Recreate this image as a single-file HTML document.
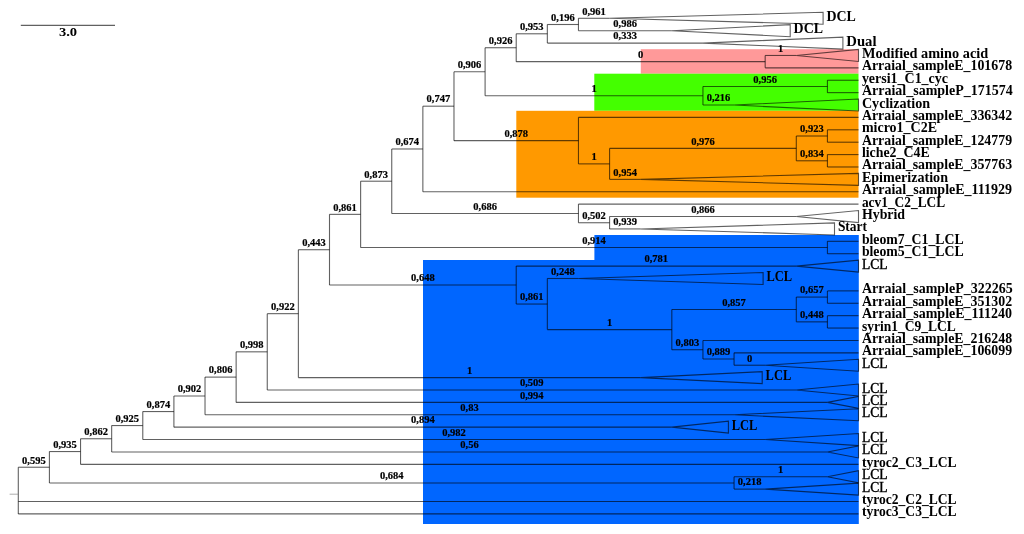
<!DOCTYPE html>
<html><head><meta charset="utf-8"><title>Phylogenetic tree</title>
<style>html,body{margin:0;padding:0;background:#fff;width:1024px;height:534px;overflow:hidden}svg{display:block;filter:blur(0.3px)}</style>
</head><body>
<svg width="1024" height="534" viewBox="0 0 1024 534">
<rect width="1024" height="534" fill="#fff"/>
<rect x="640.8" y="49.2" width="217.7" height="24.5" fill="#ff9999"/>
<rect x="594.3" y="73.7" width="264.2" height="37.1" fill="#44ff00"/>
<rect x="516.3" y="110.8" width="342.2" height="86.9" fill="#ff9900"/>
<path d="M594.4 235H858.8V524H423V260.1H594.4Z" fill="#0066ff"/>
<g stroke="#000" stroke-opacity="0.62" stroke-width="1.1" fill="none">
<path d="M18.3 467.24L18.3 513.9"/>
<path d="M18.3 467.24L49.42 467.24"/>
<path d="M49.42 451.55L49.42 482.93"/>
<path d="M49.42 451.55L80.54 451.55"/>
<path d="M80.54 438.75L80.54 464.34"/>
<path d="M80.54 438.75L111.66 438.75"/>
<path d="M111.66 425.56L111.66 451.95"/>
<path d="M111.66 425.56L142.78 425.56"/>
<path d="M142.78 411.56L142.78 439.56"/>
<path d="M142.78 411.56L173.9 411.56"/>
<path d="M173.9 395.95L173.9 427.17"/>
<path d="M173.9 395.95L205.02 395.95"/>
<path d="M205.02 377.11L205.02 414.78"/>
<path d="M205.02 377.11L236.14 377.11"/>
<path d="M236.14 351.83L236.14 402.39"/>
<path d="M236.14 351.83L267.26 351.83"/>
<path d="M267.26 313.66L267.26 390"/>
<path d="M267.26 313.66L298.38 313.66"/>
<path d="M298.38 249.72L298.38 377.61"/>
<path d="M298.38 249.72L329.5 249.72"/>
<path d="M329.5 214.36L329.5 285.07"/>
<path d="M329.5 214.36L360.62 214.36"/>
<path d="M360.62 181.21L360.62 247.52"/>
<path d="M360.62 181.21L391.74 181.21"/>
<path d="M391.74 148.98L391.74 213.44"/>
<path d="M391.74 148.98L422.86 148.98"/>
<path d="M422.86 106.19L422.86 191.76"/>
<path d="M422.86 106.19L453.98 106.19"/>
<path d="M453.98 71.73L453.98 140.65"/>
<path d="M453.98 71.73L485.1 71.73"/>
<path d="M485.1 47.73L485.1 95.74"/>
<path d="M485.1 47.73L516.22 47.73"/>
<path d="M516.22 33.79L516.22 61.66"/>
<path d="M516.22 33.79L547.34 33.79"/>
<path d="M547.34 24.5L547.34 43.08"/>
<path d="M547.34 24.5L578.46 24.5"/>
<path d="M578.46 18.3L578.46 30.69"/>
<path d="M578.46 18.3L609.58 18.3"/>
<path d="M578.46 30.69L671.82 30.69"/>
<path d="M547.34 43.08L702.94 43.08"/>
<path d="M516.22 61.66L765.18 61.66"/>
<path d="M765.18 55.47L765.18 67.86"/>
<path d="M765.18 55.47L796.3 55.47"/>
<path d="M765.18 67.86L858.5 67.86"/>
<path d="M485.1 95.74L702.94 95.74"/>
<path d="M702.94 86.44L702.94 105.03"/>
<path d="M702.94 86.44L827.42 86.44"/>
<path d="M827.42 80.25L827.42 92.64"/>
<path d="M827.42 80.25L858.5 80.25"/>
<path d="M827.42 92.64L858.5 92.64"/>
<path d="M702.94 105.03L734.06 105.03"/>
<path d="M453.98 140.65L578.46 140.65"/>
<path d="M578.46 117.42L578.46 163.88"/>
<path d="M578.46 117.42L858.5 117.42"/>
<path d="M578.46 163.88L609.58 163.88"/>
<path d="M609.58 148.4L609.58 179.37"/>
<path d="M609.58 148.4L796.3 148.4"/>
<path d="M796.3 136L796.3 160.79"/>
<path d="M796.3 136L827.42 136"/>
<path d="M827.42 129.81L827.42 142.2"/>
<path d="M827.42 129.81L858.5 129.81"/>
<path d="M827.42 142.2L858.5 142.2"/>
<path d="M796.3 160.79L827.42 160.79"/>
<path d="M827.42 154.59L827.42 166.98"/>
<path d="M827.42 154.59L858.5 154.59"/>
<path d="M827.42 166.98L858.5 166.98"/>
<path d="M609.58 179.37L640.7 179.37"/>
<path d="M422.86 191.76L858.5 191.76"/>
<path d="M391.74 213.44L578.46 213.44"/>
<path d="M578.46 204.15L578.46 222.74"/>
<path d="M578.46 204.15L858.5 204.15"/>
<path d="M578.46 222.74L609.58 222.74"/>
<path d="M609.58 216.54L609.58 228.93"/>
<path d="M609.58 216.54L796.3 216.54"/>
<path d="M609.58 228.93L640.7 228.93"/>
<path d="M360.62 247.52L827.42 247.52"/>
<path d="M827.42 241.32L827.42 253.71"/>
<path d="M827.42 241.32L858.5 241.32"/>
<path d="M827.42 253.71L858.5 253.71"/>
<path d="M329.5 285.07L516.22 285.07"/>
<path d="M516.22 266.1L516.22 304.04"/>
<path d="M516.22 266.1L796.3 266.1"/>
<path d="M516.22 304.04L547.34 304.04"/>
<path d="M547.34 278.49L547.34 329.6"/>
<path d="M547.34 278.49L578.46 278.49"/>
<path d="M547.34 329.6L671.82 329.6"/>
<path d="M671.82 309.47L671.82 349.73"/>
<path d="M671.82 309.47L796.3 309.47"/>
<path d="M796.3 297.08L796.3 321.86"/>
<path d="M796.3 297.08L827.42 297.08"/>
<path d="M827.42 290.88L827.42 303.27"/>
<path d="M827.42 290.88L858.5 290.88"/>
<path d="M827.42 303.27L858.5 303.27"/>
<path d="M796.3 321.86L827.42 321.86"/>
<path d="M827.42 315.66L827.42 328.05"/>
<path d="M827.42 315.66L858.5 315.66"/>
<path d="M827.42 328.05L858.5 328.05"/>
<path d="M671.82 349.73L702.94 349.73"/>
<path d="M702.94 340.44L702.94 359.03"/>
<path d="M702.94 340.44L858.5 340.44"/>
<path d="M702.94 359.03L734.06 359.03"/>
<path d="M734.06 352.83L734.06 365.22"/>
<path d="M734.06 352.83L858.5 352.83"/>
<path d="M734.06 365.22L765.18 365.22"/>
<path d="M298.38 377.61L640.7 377.61"/>
<path d="M267.26 390L796.3 390"/>
<path d="M236.14 402.39L827.42 402.39"/>
<path d="M205.02 414.78L734.06 414.78"/>
<path d="M173.9 427.17L671.82 427.17"/>
<path d="M142.78 439.56L765.18 439.56"/>
<path d="M111.66 451.95L827.42 451.95"/>
<path d="M80.54 464.34L858.5 464.34"/>
<path d="M49.42 482.93L734.06 482.93"/>
<path d="M734.06 476.73L734.06 489.12"/>
<path d="M734.06 476.73L827.42 476.73"/>
<path d="M734.06 489.12L765.18 489.12"/>
<path d="M18.3 501.51L858.5 501.51"/>
<path d="M18.3 513.9L858.5 513.9"/>
<path d="M609.58 18.3L823.1 12.3L823.1 24.3L609.58 18.3"/>
<path d="M671.82 30.69L790.2 24.69L790.2 36.69L671.82 30.69"/>
<path d="M702.94 43.08L842.9 37.08L842.9 49.08L702.94 43.08"/>
<path d="M796.3 55.47L858.5 49.47L858.5 61.47L796.3 55.47"/>
<path d="M734.06 105.03L858.5 99.03L858.5 111.03L734.06 105.03"/>
<path d="M640.7 179.37L858.5 173.37L858.5 185.37L640.7 179.37"/>
<path d="M796.3 216.54L858.5 210.54L858.5 222.54L796.3 216.54"/>
<path d="M640.7 228.93L834.5 222.93L834.5 234.93L640.7 228.93"/>
<path d="M796.3 266.1L858.5 260.1L858.5 272.1L796.3 266.1"/>
<path d="M578.46 278.49L763.1 272.49L763.1 284.49L578.46 278.49"/>
<path d="M765.18 365.22L858.5 359.22L858.5 371.22L765.18 365.22"/>
<path d="M640.7 377.61L762.2 371.61L762.2 383.61L640.7 377.61"/>
<path d="M796.3 390L858.5 384L858.5 396L796.3 390"/>
<path d="M827.42 402.39L858.5 396.39L858.5 408.39L827.42 402.39"/>
<path d="M734.06 414.78L858.5 408.78L858.5 420.78L734.06 414.78"/>
<path d="M671.82 427.17L728.4 421.17L728.4 433.17L671.82 427.17"/>
<path d="M765.18 439.56L858.5 433.56L858.5 445.56L765.18 439.56"/>
<path d="M827.42 451.95L858.5 445.95L858.5 457.95L827.42 451.95"/>
<path d="M827.42 476.73L858.5 470.73L858.5 482.73L827.42 476.73"/>
<path d="M765.18 489.12L858.5 483.12L858.5 495.12L765.18 489.12"/>
<path d="M9.6 494.22H18.3" stroke="#888"/>
<path d="M20.8 25.4H115"/>
</g>
<g font-family="Liberation Serif, serif" font-weight="bold" font-size="10.5" text-anchor="middle" fill="#000" stroke="#000" stroke-width="0.2">
<text x="33.86" y="463.54">0,595</text>
<text x="64.98" y="447.85">0,935</text>
<text x="96.1" y="435.05">0,862</text>
<text x="127.22" y="421.86">0,925</text>
<text x="158.34" y="407.86">0,874</text>
<text x="189.46" y="392.25">0,902</text>
<text x="220.58" y="373.41">0,806</text>
<text x="251.7" y="348.13">0,998</text>
<text x="282.82" y="309.96">0,922</text>
<text x="313.94" y="246.02">0,443</text>
<text x="345.06" y="210.66">0,861</text>
<text x="376.18" y="177.51">0,873</text>
<text x="407.3" y="145.28">0,674</text>
<text x="438.42" y="102.49">0,747</text>
<text x="469.54" y="68.03">0,906</text>
<text x="500.66" y="44.03">0,926</text>
<text x="531.78" y="30.09">0,953</text>
<text x="562.9" y="20.8">0,196</text>
<text x="594.02" y="14.6">0,961</text>
<text x="625.14" y="26.99">0,986</text>
<text x="625.14" y="39.38">0,333</text>
<text x="640.7" y="57.96">0</text>
<text x="780.74" y="51.77">1</text>
<text x="594.02" y="92.04">1</text>
<text x="765.18" y="82.74">0,956</text>
<text x="718.5" y="101.33">0,216</text>
<text x="516.22" y="136.95">0,878</text>
<text x="594.02" y="160.18">1</text>
<text x="702.94" y="144.7">0,976</text>
<text x="811.86" y="132.31">0,923</text>
<text x="811.86" y="157.09">0,834</text>
<text x="625.14" y="175.67">0,954</text>
<text x="485.1" y="209.74">0,686</text>
<text x="594.02" y="219.04">0,502</text>
<text x="702.94" y="212.84">0,866</text>
<text x="625.14" y="225.23">0,939</text>
<text x="594.02" y="243.82">0,914</text>
<text x="422.86" y="281.37">0,648</text>
<text x="656.26" y="262.4">0,781</text>
<text x="531.78" y="300.34">0,861</text>
<text x="562.9" y="274.79">0,248</text>
<text x="609.58" y="325.9">1</text>
<text x="734.06" y="305.77">0,857</text>
<text x="811.86" y="293.38">0,657</text>
<text x="811.86" y="318.16">0,448</text>
<text x="687.38" y="346.03">0,803</text>
<text x="718.5" y="355.33">0,889</text>
<text x="749.62" y="361.52">0</text>
<text x="469.54" y="373.91">1</text>
<text x="531.78" y="386.3">0,509</text>
<text x="531.78" y="398.69">0,994</text>
<text x="469.54" y="411.08">0,83</text>
<text x="422.86" y="423.47">0,894</text>
<text x="453.98" y="435.86">0,982</text>
<text x="469.54" y="448.25">0,56</text>
<text x="391.74" y="479.23">0,684</text>
<text x="780.74" y="473.03">1</text>
<text x="749.62" y="485.42">0,218</text>
</g>
<g font-family="Liberation Serif, serif" font-size="13.8" fill="#000">
<text x="826.5" y="20.8" font-weight="bold" textLength="29.4" lengthAdjust="spacingAndGlyphs">DCL</text>
<text x="793.6" y="33.19" font-weight="bold" textLength="29.4" lengthAdjust="spacingAndGlyphs">DCL</text>
<text x="846.3" y="45.58" font-weight="bold" textLength="30.2" lengthAdjust="spacingAndGlyphs">Dual</text>
<text x="861.9" y="57.97" font-weight="bold" textLength="126.3" lengthAdjust="spacingAndGlyphs">Modified amino acid</text>
<text x="861.9" y="70.36" font-weight="bold" textLength="150.2" lengthAdjust="spacingAndGlyphs">Arraial_sampleE_101678</text>
<text x="861.9" y="82.75" font-weight="bold" textLength="86.1" lengthAdjust="spacingAndGlyphs">yersi1_C1_cyc</text>
<text x="861.9" y="95.14" font-weight="bold" textLength="150.9" lengthAdjust="spacingAndGlyphs">Arraial_sampleP_171574</text>
<text x="861.9" y="107.53" font-weight="bold" textLength="68.3" lengthAdjust="spacingAndGlyphs">Cyclization</text>
<text x="861.9" y="119.92" font-weight="bold" textLength="150.2" lengthAdjust="spacingAndGlyphs">Arraial_sampleE_336342</text>
<text x="861.9" y="132.31" font-weight="bold" textLength="75.1" lengthAdjust="spacingAndGlyphs">micro1_C2E</text>
<text x="861.9" y="144.7" font-weight="bold" textLength="150.2" lengthAdjust="spacingAndGlyphs">Arraial_sampleE_124779</text>
<text x="861.9" y="157.09" font-weight="bold" textLength="67.8" lengthAdjust="spacingAndGlyphs">liche2_C4E</text>
<text x="861.9" y="169.48" font-weight="bold" textLength="150.2" lengthAdjust="spacingAndGlyphs">Arraial_sampleE_357763</text>
<text x="861.9" y="181.87" font-weight="bold" textLength="86.1" lengthAdjust="spacingAndGlyphs">Epimerization</text>
<text x="861.9" y="194.26" font-weight="bold" textLength="150.2" lengthAdjust="spacingAndGlyphs">Arraial_sampleE_111929</text>
<text x="861.9" y="206.65" font-weight="bold" textLength="83.3" lengthAdjust="spacingAndGlyphs">acv1_C2_LCL</text>
<text x="861.9" y="219.04" font-weight="bold" textLength="43.2" lengthAdjust="spacingAndGlyphs">Hybrid</text>
<text x="837.9" y="231.43" font-weight="bold" textLength="29.1" lengthAdjust="spacingAndGlyphs">Start</text>
<text x="861.9" y="243.82" font-weight="bold" textLength="101.7" lengthAdjust="spacingAndGlyphs">bleom7_C1_LCL</text>
<text x="861.9" y="256.21" font-weight="bold" textLength="101.7" lengthAdjust="spacingAndGlyphs">bleom5_C1_LCL</text>
<text x="861.9" y="268.6" stroke="#000" stroke-width="0.4" textLength="25.6" lengthAdjust="spacingAndGlyphs">LCL</text>
<text x="766.5" y="280.99" font-weight="bold" textLength="25.6" lengthAdjust="spacingAndGlyphs">LCL</text>
<text x="861.9" y="293.38" font-weight="bold" textLength="150.9" lengthAdjust="spacingAndGlyphs">Arraial_sampleP_322265</text>
<text x="861.9" y="305.77" font-weight="bold" textLength="150.2" lengthAdjust="spacingAndGlyphs">Arraial_sampleE_351302</text>
<text x="861.9" y="318.16" font-weight="bold" textLength="150.2" lengthAdjust="spacingAndGlyphs">Arraial_sampleE_111240</text>
<text x="861.9" y="330.55" font-weight="bold" textLength="93.9" lengthAdjust="spacingAndGlyphs">syrin1_C9_LCL</text>
<text x="861.9" y="342.94" font-weight="bold" textLength="150.2" lengthAdjust="spacingAndGlyphs">Arraial_sampleE_216248</text>
<text x="861.9" y="355.33" font-weight="bold" textLength="150.2" lengthAdjust="spacingAndGlyphs">Arraial_sampleE_106099</text>
<text x="861.9" y="367.72" stroke="#000" stroke-width="0.4" textLength="25.6" lengthAdjust="spacingAndGlyphs">LCL</text>
<text x="765.6" y="380.11" font-weight="bold" textLength="25.6" lengthAdjust="spacingAndGlyphs">LCL</text>
<text x="861.9" y="392.5" stroke="#000" stroke-width="0.4" textLength="25.6" lengthAdjust="spacingAndGlyphs">LCL</text>
<text x="861.9" y="404.89" stroke="#000" stroke-width="0.4" textLength="25.6" lengthAdjust="spacingAndGlyphs">LCL</text>
<text x="861.9" y="417.28" stroke="#000" stroke-width="0.4" textLength="25.6" lengthAdjust="spacingAndGlyphs">LCL</text>
<text x="731.8" y="429.67" font-weight="bold" textLength="25.6" lengthAdjust="spacingAndGlyphs">LCL</text>
<text x="861.9" y="442.06" stroke="#000" stroke-width="0.4" textLength="25.6" lengthAdjust="spacingAndGlyphs">LCL</text>
<text x="861.9" y="454.45" stroke="#000" stroke-width="0.4" textLength="25.6" lengthAdjust="spacingAndGlyphs">LCL</text>
<text x="861.9" y="466.84" font-weight="bold" textLength="94.7" lengthAdjust="spacingAndGlyphs">tyroc2_C3_LCL</text>
<text x="861.9" y="479.23" stroke="#000" stroke-width="0.4" textLength="25.6" lengthAdjust="spacingAndGlyphs">LCL</text>
<text x="861.9" y="491.62" stroke="#000" stroke-width="0.4" textLength="25.6" lengthAdjust="spacingAndGlyphs">LCL</text>
<text x="861.9" y="504.01" font-weight="bold" textLength="94.7" lengthAdjust="spacingAndGlyphs">tyroc2_C2_LCL</text>
<text x="861.9" y="516.4" font-weight="bold" textLength="94.7" lengthAdjust="spacingAndGlyphs">tyroc3_C3_LCL</text>
</g>
<text x="68" y="35.6" font-family="Liberation Serif, serif" font-weight="bold" font-size="13.4" text-anchor="middle" textLength="18.2" lengthAdjust="spacingAndGlyphs">3.0</text>
</svg>
</body></html>
